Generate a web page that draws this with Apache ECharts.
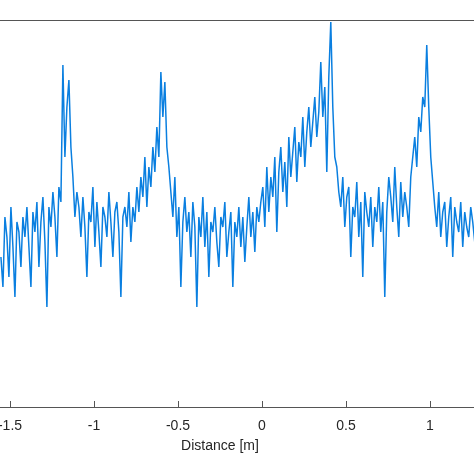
<!DOCTYPE html>
<html><head><meta charset="utf-8">
<script src="https://cdn.jsdelivr.net/npm/echarts@6/dist/echarts.min.js"></script>
<style>html,body{margin:0;padding:0;background:#fff;overflow:hidden;width:474px;height:474px;position:relative}#c{position:absolute;left:-74px;top:0;width:588px;height:474px}</style>
</head><body><div id="c"></div>
<script>
const xStart = -1.554, xStep = 0.0119;
const heights = [
150,120,190,170,130,200,160,110,185,175,140,
190,170,200,160,120,195,175,205,140,185,210,165,100,200,180,215,190,150,220,205,
342,250,300,327,260,
230,190,215,
200,170,210,180,130,195,185,220,160,205,175,140,200,190,170,215,185,150,195,205,175,110,190,200,180,215,165,200,185,220,195,
230,210,250,200,240,220,260,235,280,250,
335,290,325,260,240,
215,190,230,170,200,120,185,210,175,195,150,205,180,100,190,170,210,160,195,130,185,175,200,165,140,190,180,205,150,175,195,120,185,170,200,160,190,145,180,210,170,195,155,200,185,
205,220,180,240,195,230,210,250,175,235,260,215,245,200,270,230,255,280,225,265,250,290,240,275,300,260,285,310,270,295,
345,290,320,235,330,385,300,250,
240,215,200,230,180,210,220,150,200,190,225,170,205,130,215,195,180,210,160,200,185,220,175,205,110,195,230,210,185,240,200,170,225,190,215,200,180,230,
250,270,240,290,275,310,300,
362,300,250,225,
200,180,215,170,195,205,160,190,210,150,200,185,175,205,160,195,180,170,200,185,165
];
const xLabel = 'Distance [m]';
const data = heights.map((h,i)=>[xStart+i*xStep,h]);
const chart = echarts.init(document.getElementById('c'), null, {width:588, height:474});
const font = 'Liberation Sans, Arial, sans-serif';
chart.setOption({
  animation:false,
  grid:{left:0,right:0,top:20,bottom:67,containLabel:false,outerBoundsMode:'none'},
  xAxis:[{type:'value',min:-2,max:1.5,interval:0.5,position:'bottom',
    name:xLabel,nameLocation:'middle',nameGap:32,
    nameTextStyle:{color:'#262626',fontSize:14,fontFamily:font},
    axisLine:{show:true,onZero:false,lineStyle:{color:'#555',width:1.2}},
    axisTick:{show:true,inside:true,length:6,lineStyle:{color:'#555'}},
    axisLabel:{color:'#262626',fontSize:14,fontFamily:font,margin:12},
    splitLine:{show:false}},
   {type:'value',min:-2,max:1.5,position:'top',
    axisLine:{show:true,onZero:false,lineStyle:{color:'#555',width:1.2}},
    axisTick:{show:false},axisLabel:{show:false},splitLine:{show:false}}],
  yAxis:{type:'value',min:0,max:387,show:false},
  series:[{type:'line',data:data,showSymbol:false,
    lineStyle:{color:'#0A7FE0',width:1.5},itemStyle:{color:'#0A7FE0'}}]
});
</script></body></html>
